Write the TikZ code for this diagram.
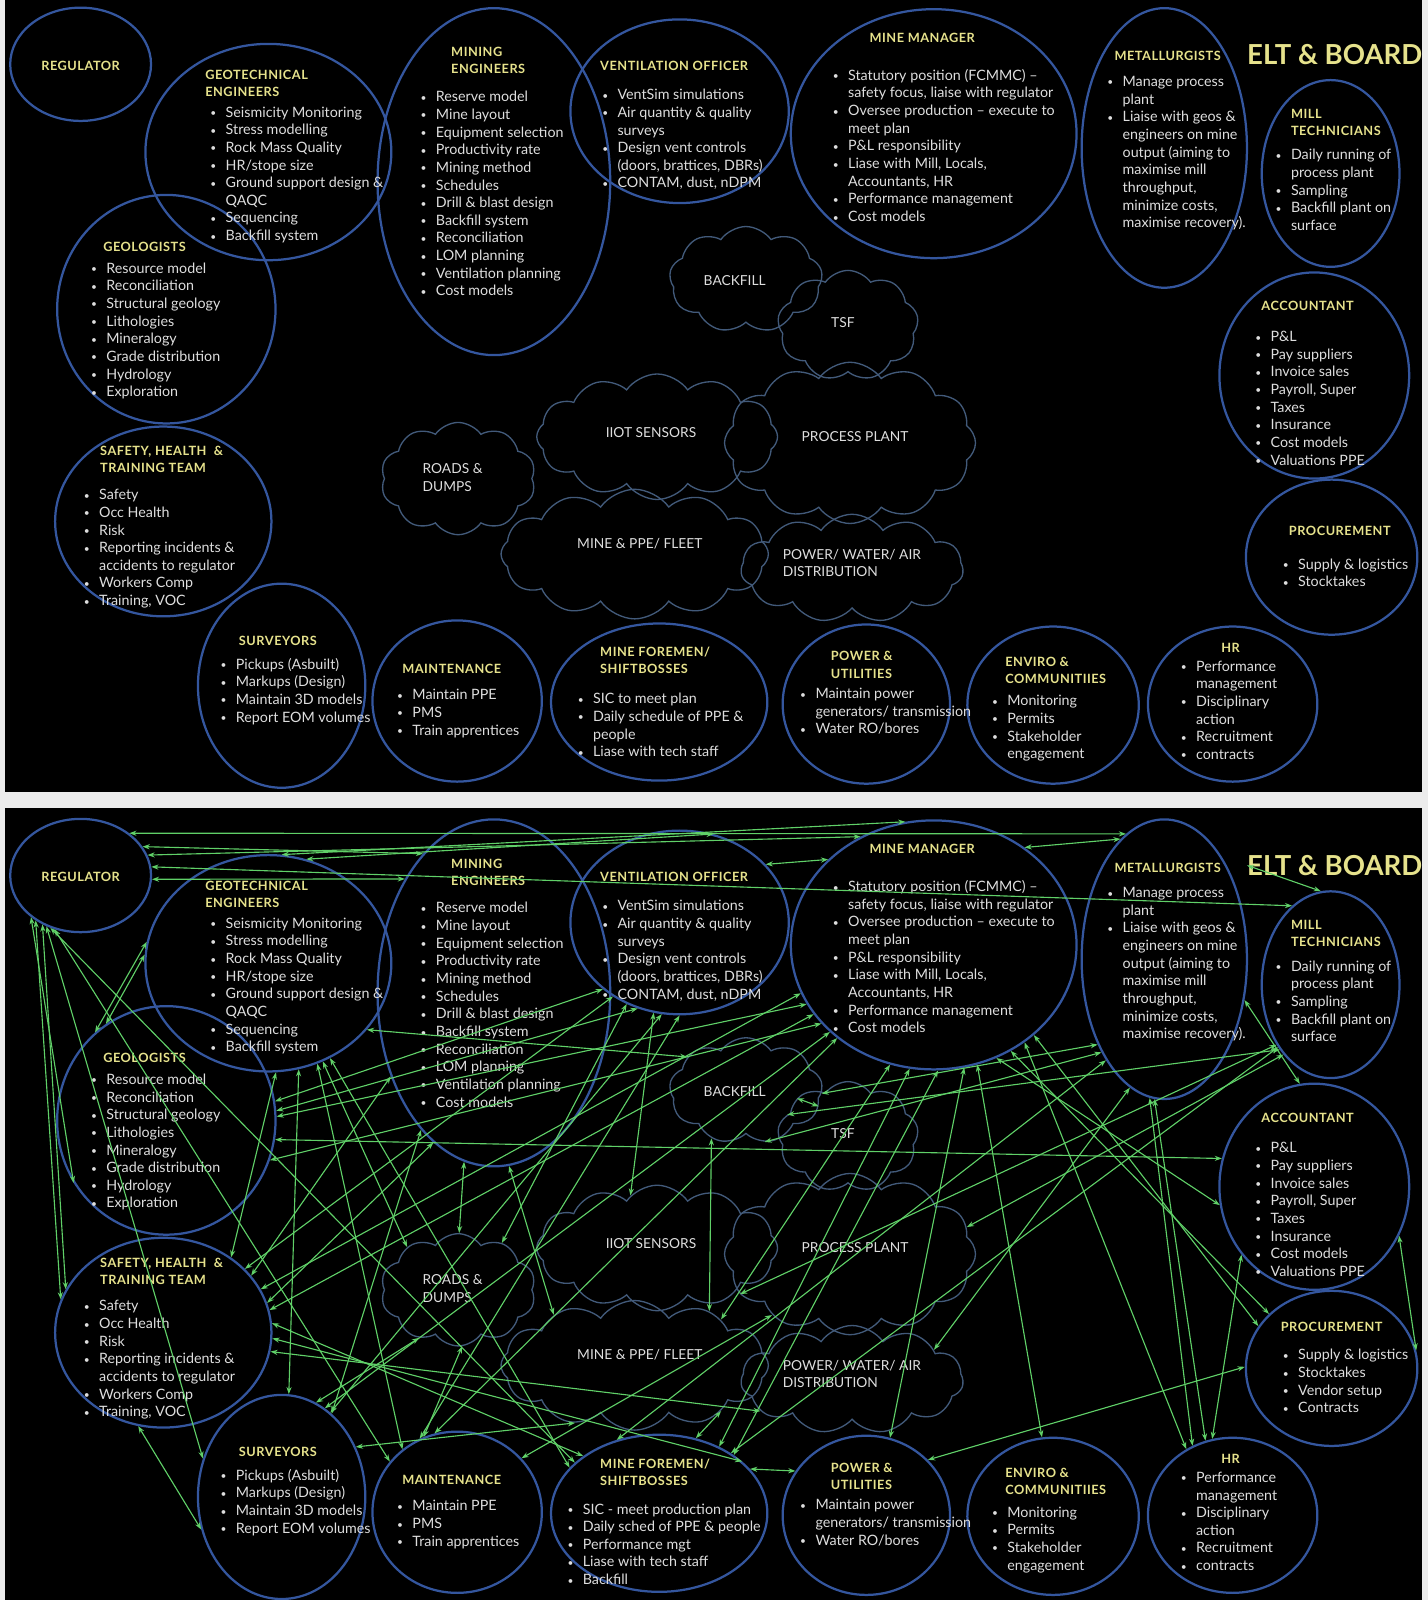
\documentclass[tikz,border=0pt]{standalone}
\usepackage{fontspec}
\setmainfont{Lato}
\usetikzlibrary{shapes.geometric,shapes.symbols,arrows.meta}
\definecolor{ellblue}{RGB}{52,86,158}
\definecolor{cloudc}{RGB}{66,90,122}
\definecolor{ttlc}{RGB}{230,226,140}
\definecolor{bodyc}{RGB}{222,222,222}
\definecolor{arrg}{RGB}{96,208,104}
\definecolor{bgc}{RGB}{236,236,236}
\newcommand{\mybul}{\makebox[15pt][l]{\raisebox{0.5pt}{\fontsize{10}{10}\selectfont\textbullet}}}
\newcommand{\mycnt}{\hspace*{15pt}}
\newcommand{\mystr}{\rule{0pt}{13.5pt}}
\tikzset{
  ell/.style={ellipse, draw=ellblue, line width=2.2pt, inner sep=0pt},
  cld/.style={cloud, cloud puffs=#1, cloud puff arc=110, cloud ignores aspect, draw=cloudc, line width=1.3pt, inner sep=0pt},
  ttl/.style={text=ttlc, font=\bfseries\fontsize{12.5}{16.8}\selectfont\addfontfeatures{LetterSpace=4}, inner sep=0pt, align=left, anchor=north west, yshift=2pt},
  bod/.style={text=bodyc, font=\fontsize{14}{17.3}\selectfont, inner sep=0pt, align=left, anchor=north west, yshift=3pt},
  cll/.style={text=bodyc, font=\fontsize{13.5}{17}\selectfont, inner sep=0pt},
  cll2/.style={text=bodyc, font=\fontsize{13.5}{17}\selectfont, inner sep=0pt, anchor=north west, align=left, yshift=2.5pt},
  eltst/.style={text=ttlc, font=\bfseries\fontsize{27}{30}\selectfont, inner sep=0pt},
  arw/.style={draw=arrg, line width=1.1pt, arrows={Stealth[length=7pt,width=5pt]-Stealth[length=7pt,width=5pt]}}
}
\newcommand{\drawpanel}[1]{%
  \node[ell,minimum width=138pt,minimum height=111pt] (reg#1) at (79,63) {};
  \node[ell,minimum width=241pt,minimum height=212pt] (geot#1) at (263,149) {};
  \node[ell,minimum width=214pt,minimum height=224pt] (geol#1) at (163,303) {};
  \node[ell,minimum width=228pt,minimum height=340pt] (min#1) at (484,178) {};
  \node[ell,minimum width=214pt,minimum height=180pt] (vent#1) at (666,109) {};
  \node[ell,minimum width=280pt,minimum height=244pt] (mm#1) at (915,131) {};
  \node[ell,minimum width=162pt,minimum height=274pt] (met#1) at (1141,145) {};
  \node[ell,minimum width=135pt,minimum height=183pt] (mill#1) at (1304,170) {};
  \node[ell,minimum width=186pt,minimum height=202pt] (acc#1) at (1288,368) {};
  \node[ell,minimum width=168pt,minimum height=152pt] (proc#1) at (1305,546) {};
  \node[ell,minimum width=212pt,minimum height=186pt] (saf#1) at (160,511) {};
  \node[ell,minimum width=164pt,minimum height=200pt] (surv#1) at (276,672) {};
  \node[ell,minimum width=166pt,minimum height=158pt] (maint#1) at (448,687) {};
  \node[ell,minimum width=212pt,minimum height=154pt] (fore#1) at (646,688) {};
  \node[ell,minimum width=164pt,minimum height=156pt] (pow#1) at (849,690) {};
  \node[ell,minimum width=168pt,minimum height=154pt] (env#1) at (1032,691) {};
  \node[ell,minimum width=166pt,minimum height=152pt] (hr#1) at (1208,690) {};
  % clouds
  \node[cld=9,minimum width=150pt,minimum height=104pt] (bf#1) at (731,274) {};
  \node[cld=9,minimum width=138pt,minimum height=108pt] (tsf#1) at (831,319) {};
  \node[cld=12,minimum width=236pt,minimum height=123pt] (iot#1) at (644,428) {};
  \node[cld=12,minimum width=246pt,minimum height=158pt] (pp#1) at (833,434) {};
  \node[cld=10,minimum width=152pt,minimum height=110pt] (rd#1) at (449,469) {};
  \node[cld=12,minimum width=262pt,minimum height=127pt] (mp#1) at (622,543) {};
  \node[cld=11,minimum width=218pt,minimum height=106pt] (pw#1) at (835,557) {};
  % cloud labels
  \node[cll] (bf#1l) at (720,275) {BACKFILL};
  \node[cll] (tsf#1l) at (826,316) {TSF};
  \node[cll] (iot#1l) at (638,424) {IIOT SENSORS};
  \node[cll] (pp#1l) at (838,428) {PROCESS PLANT};
  \node[cll2] (rd#1l) at (414,453) {\mystr ROADS \&\\DUMPS};
  \node[cll] (mp#1l) at (627,533) {MINE \& PPE/ FLEET};
  \node[cll2] (pw#1l) at (767,537) {\mystr POWER/ WATER/ AIR\\DISTRIBUTION};
  % titles
  \node[ttl,anchor=north] (reg#1t) at (79,57) {\mystr REGULATOR};
  \node[ttl] (geot#1t) at (201,66) {\mystr GEOTECHNICAL\\ENGINEERS};
  \node[ttl] (geol#1t) at (101,235) {\mystr GEOLOGISTS};
  \node[ttl] (min#1t) at (442,44) {\mystr MINING\\ENGINEERS};
  \node[ttl] (vent#1t) at (588,57) {\mystr VENTILATION OFFICER};
  \node[ttl] (mm#1t) at (852,30) {\mystr MINE MANAGER};
  \node[ttl] (met#1t) at (1092,48) {\mystr METALLURGISTS};
  \node[ttl] (mill#1t) at (1265,104) {\mystr MILL\\TECHNICIANS};
  \node[ttl] (acc#1t) at (1236,293) {\mystr ACCOUNTANT};
  \node[ttl] (saf#1t) at (98,435) {\mystr SAFETY, HEALTH \ \&\\TRAINING TEAM};
  \node[ttl] (surv#1t) at (234,621) {\mystr SURVEYORS};
  \node[ttl] (maint#1t) at (394,648) {\mystr MAINTENANCE};
  \node[ttl] (fore#1t) at (588,632) {\mystr MINE FOREMEN/\\SHIFTBOSSES};
  \node[ttl] (pow#1t) at (814,636) {\mystr POWER \&\\UTILITIES};
  \node[ttl] (env#1t) at (985,641) {\mystr ENVIRO \&\\COMMUNITIIES};
  \node[ttl,anchor=north] (hr#1t) at (1206,628) {\mystr HR};
  \node[eltst,anchor=west] (elt#1) at (1222,53) {ELT \& BOARD};
  % bodies
  \node[bod] (geot#1b) at (206,104) {\mystr\mybul Seismicity Monitoring\\\mybul Stress modelling\\\mybul Rock Mass Quality\\\mybul HR/stope size\\\mybul Ground support design \&\\\mycnt QAQC\\\mybul Sequencing\\\mybul Backfill system};
  \node[bod] (geol#1b) at (89,257) {\mystr\mybul Resource model\\\mybul Reconciliation\\\mybul Structural geology\\\mybul Lithologies\\\mybul Mineralogy\\\mybul Grade distribution\\\mybul Hydrology\\\mybul Exploration};
  \node[bod] (min#1b) at (412,89) {\mystr\mybul Reserve model\\\mybul Mine layout\\\mybul Equipment selection\\\mybul Productivity rate\\\mybul Mining method\\\mybul Schedules\\\mybul Drill \& blast design\\\mybul Backfill system\\\mybul Reconciliation\\\mybul LOM planning\\\mybul Ventilation planning\\\mybul Cost models};
  \node[bod] (vent#1b) at (590,87) {\mystr\mybul VentSim simulations\\\mybul Air quantity \& quality\\\mycnt surveys\\\mybul Design vent controls\\\mycnt (doors, brattices, DBRs)\\\mybul CONTAM, dust, nDPM};
  \node[bod] (mm#1b) at (816,68) {\mystr\mybul Statutory position (FCMMC) --\\\mycnt safety focus, liaise with regulator\\\mybul Oversee production -- execute to\\\mycnt meet plan\\\mybul P\&L responsibility\\\mybul Liase with Mill, Locals,\\\mycnt Accountants, HR\\\mybul Performance management\\\mybul Cost models};
  \node[bod] (met#1b) at (1085,74) {\mystr\mybul Manage process\\\mycnt plant\\\mybul Liaise with geos \&\\\mycnt engineers on mine\\\mycnt output (aiming to\\\mycnt maximise mill\\\mycnt throughput,\\\mycnt minimize costs,\\\mycnt maximise recovery).};
  \node[bod] (mill#1b) at (1250,146) {\mystr\mybul Daily running of\\\mycnt process plant\\\mybul Sampling\\\mybul Backfill plant on\\\mycnt surface};
  \node[bod] (acc#1b) at (1230,324) {\mystr\mybul P\&L\\\mybul Pay suppliers\\\mybul Invoice sales\\\mybul Payroll, Super\\\mybul Taxes\\\mybul Insurance\\\mybul Cost models\\\mybul Valuations PPE};
  \node[bod] (saf#1b) at (82,479) {\mystr\mybul Safety\\\mybul Occ Health\\\mybul Risk\\\mybul Reporting incidents \&\\\mycnt accidents to regulator\\\mybul Workers Comp\\\mybul Training, VOC};
  \node[bod] (surv#1b) at (216,645) {\mystr\mybul Pickups (Asbuilt)\\\mybul Markups (Design)\\\mybul Maintain 3D models\\\mybul Report EOM volumes};
  \node[bod] (maint#1b) at (389,675) {\mystr\mybul Maintain PPE\\\mybul PMS\\\mybul Train apprentices};
  \node[bod] (pow#1b) at (784,674) {\mystr\mybul Maintain power\\\mycnt generators/ transmission\\\mybul Water RO/bores};
  \node[bod] (env#1b) at (972,681) {\mystr\mybul Monitoring\\\mybul Permits\\\mybul Stakeholder\\\mycnt engagement};
  \node[bod] (hr#1b) at (1157,647) {\mystr\mybul Performance\\\mycnt management\\\mybul Disciplinary\\\mycnt action\\\mybul Recruitment\\\mybul contracts};
}
\begin{document}
\begin{tikzpicture}[x=1pt,y=-1pt]
\useasboundingbox (0,0) rectangle (1399,1568);
\fill[bgc] (0,0) rectangle (1399,1568);
\fill[black] (5,0) rectangle (1394,776);
\fill[black] (5,792) rectangle (1394,1568);
\begin{scope}
\drawpanel{t}
\node[bod] (foret-b) at (566,679) {\mystr\mybul SIC to meet plan\\\mybul Daily schedule of PPE \&\\\mycnt people\\\mybul Liase with tech staff};
\node[ttl] (proct-t) at (1263,513) {\mystr PROCUREMENT};
\node[bod] (proct-b) at (1257,547) {\mystr\mybul Supply \& logistics\\\mybul Stocktakes};
\end{scope}
\begin{scope}[yshift=-795pt]
\drawpanel{b}
\node[bod] (foreb-b) at (556,678) {\mystr\mybul SIC - meet production plan\\\mybul Daily sched of PPE \& people\\\mybul Performance mgt\\\mybul Liase with tech staff\\\mybul Backfill};
\node[ttl] (procb-t) at (1255,498) {\mystr PROCUREMENT};
\node[bod] (procb-b) at (1257,527) {\mystr\mybul Supply \& logistics\\\mybul Stocktakes\\\mybul Vendor setup\\\mybul Contracts};
\end{scope}
% arrows (bottom panel)
\draw[arw] (regb.41) -- (metb.107);
\draw[arw] (regb.25) -- (minb.117);
\draw[arw] (regb.17) -- (mmb.124);
\draw[arw] (geotb.83) -- (mmb.103);
\draw[arw] (geotb.70) -- (ventb.69);
\draw[arw] (regb.7) -- (millb.116);
\draw[arw] (regb.-3) -- (minb.128);
\draw[arw] (ventb.34) -- (mmb.141);
\draw[arw] (mmb.47) -- (metb.110);
\draw[arw] (eltb.west) -- (millb.96);
\draw[arw] (regb.225) -- (safb.162);
\draw[arw] (regb.232) -- (safb.156);
\draw[arw] (regb.220) -- (geolb.214);
\draw[arw] (regb.236) -- (survb.154);
\draw[arw] (regb.244) -- (maintb.143);
\draw[arw] (regb.240) -- (foreb.149);
\draw[arw] (geolb.129) -- (geotb.170);
\draw[arw] (geolb.122) -- (geotb.176);
\draw[arw] (geotb.274) -- (safb.48);
\draw[arw] (geotb.286) -- (survb.86);
\draw[arw] (geotb.296) -- (maintb.131);
\draw[arw] (geotb.303) -- (foreb.153);
\draw[arw] (geotb.326) -- (bfb.150);
\draw[arw] (geotb.299) -- (rdb.140);
\draw[arw] (geolb.10) -- (ventb.221);
\draw[arw] (geolb.2) -- (mmb.205);
\draw[arw] (geolb.350) -- (accb.163);
\draw[arw] (geolb.339) -- (mmb.215);
\draw[arw] (geolb.5) -- (ventb.244);
\draw[arw] (minb.260) -- (rdb.89);
\draw[arw] (minb.275) -- (mpb.148);
\draw[arw] (minb.242) -- (survb.59);
\draw[arw] (minb.248) -- (safb.16);
\draw[arw] (minb.219) -- (safb.33);
\draw[arw] (safb.38) -- (ventb.228);
\draw[arw] (safb.24) -- (mmb.200);
\draw[arw] (safb.12) -- (mmb.210);
\draw[arw] (survb.60) -- (ventb.259);
\draw[arw] (survb.64) -- (mmb.220);
\draw[arw] (maintb.117) -- (ventb.270);
\draw[arw] (maintb.106) -- (mmb.224);
\draw[arw] (maintb.40) -- (ppb.218);
\draw[arw] (survb.34) -- (mpb.224);
\draw[arw] (safb.5) -- (foreb.143);
\draw[arw] (safb.357) -- (foreb.32);
\draw[arw] (safb.350) -- (pwb.199);
\draw[arw] (safb.255) -- (survb.202);
\draw[arw] (rdb.231) -- (survb.70);
\draw[arw] (rdb.274) -- (maintb.114);
\draw[arw] (rdb.47) -- (ventb.237);
\draw[arw] (iotb.117) -- (ventb.254);
\draw[arw] (bfb.234) -- (mpb.36);
\draw[arw] (bfb.348) -- (tsfb.143);
\draw[arw] (mpb.332) -- (foreb.64);
\draw[arw] (foreb.120) -- (metb.240);
\draw[arw] (foreb.40) -- (millb.230);
\draw[arw] (mmb.313) -- (hrb.125);
\draw[arw] (mmb.306) -- (procb.139);
\draw[arw] (mmb.299) -- (accb.191);
\draw[arw] (mmb.290) -- (envb.98);
\draw[arw] (mmb.284) -- (powb.73);
\draw[arw] (mmb.272) -- (foreb.38);
\draw[arw] (mmb.259) -- (foreb.48);
\draw[arw] (metb.264) -- (hrb.120);
\draw[arw] (metb.266) -- (hrb.110);
\draw[arw] (metb.255) -- (pwb.20);
\draw[arw] (metb.232) -- (bfb.358);
\draw[arw] (metb.236) -- (bfb.290);
\draw[arw] (millb.236) -- (ppb.13);
\draw[arw] (millb.232) -- (tsfb.160);
\draw[arw] (metb.333) -- (accb.98);
\draw[arw] (accb.223) -- (hrb.105);
\draw[arw] (accb.330) -- (procb.12);
\draw[arw] (procb.179) -- (powb.42);
\draw[arw] (foreb.26) -- (powb.148);
\draw[arw] (procb.150) -- (mmb.318);
\draw[arw] (mmb.250) -- (mpb.28);
\draw[arw] (millb.228) -- (ppb.200);
\end{tikzpicture}
\end{document}
